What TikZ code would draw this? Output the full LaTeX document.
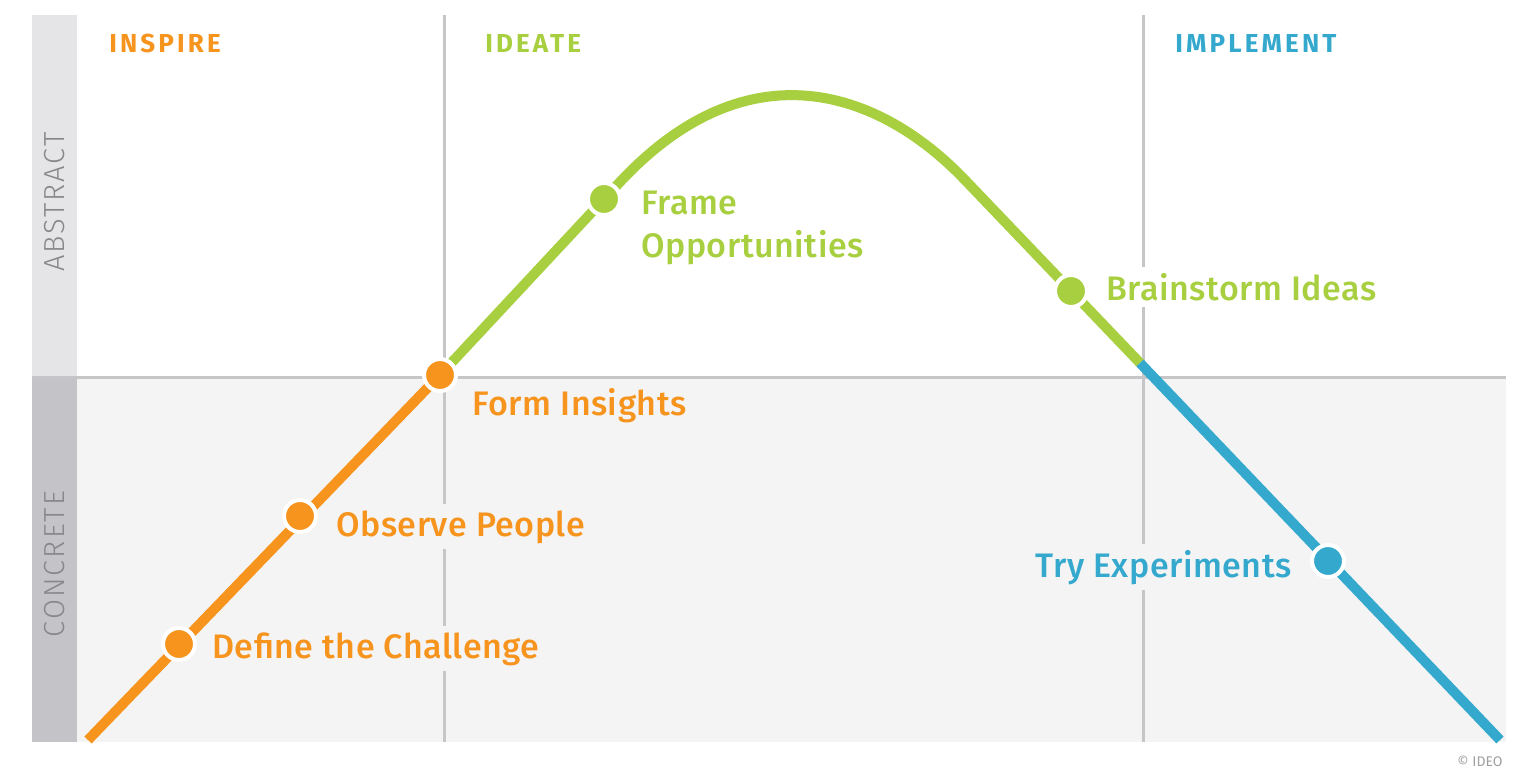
\documentclass[tikz,border=0pt]{standalone}
\usepackage{fontspec}
\setmainfont{Fira Sans}
\newfontfamily\hdrfont[LetterSpace=12]{Fira Sans}
\newfontfamily\lblfont[LetterSpace=1.5]{Fira Sans Medium}
\newfontfamily\sidefont[LetterSpace=7]{Fira Sans Light}
\definecolor{cOrange}{HTML}{F7941E}
\definecolor{cGreen}{HTML}{A8CF3F}
\definecolor{cBlue}{HTML}{35A9CD}
\definecolor{bandA}{HTML}{E5E5E7}
\definecolor{bandC}{HTML}{C4C4C8}
\definecolor{concBg}{HTML}{F4F4F5}
\definecolor{gridGray}{HTML}{C6C6C8}
\definecolor{sideText}{HTML}{88888C}
\begin{document}
\begin{tikzpicture}[x=0.5pt,y=-0.5pt,
  gridline/.style={draw=gridGray,line width=1.5pt},
  phase/.style={line width=5pt,line cap=butt,line join=round},
  lbl/.style={anchor=base west,inner xsep=2pt,inner ysep=3pt,font=\lblfont\fontsize{17}{20}\selectfont},
  hdr/.style={anchor=base west,inner sep=0pt,font=\hdrfont\bfseries\fontsize{13}{15}\selectfont},
  side/.style={rotate=90,inner sep=0pt,text=sideText,font=\sidefont\fontsize{14.5}{16}\selectfont},
  dot/.style={circle,inner sep=0pt,minimum size=16pt,draw=white,line width=2pt,fill=#1}]
\useasboundingbox (0,0) rectangle (1536,781);
\fill[white] (0,0) rectangle (1536,781);
% bands and background
\fill[bandA] (32,15) rectangle (77,377);
\fill[bandC] (32,377) rectangle (77,742);
\fill[concBg] (77,377) rectangle (1506,742);
% grid lines
\coordinate (hL) at (32,377);
\coordinate (hR) at (1506,377);
\coordinate (v1t) at (444,15);
\coordinate (v1b) at (444,742);
\coordinate (v2t) at (1143,15);
\coordinate (v2b) at (1143,742);
\draw[gridline] (hL) -- (hR);
\draw[gridline] (v1t) -- (v1b);
\draw[gridline] (v2t) -- (v2b);
% side labels
\node[side] (abs) at (55,202) {ABSTRACT};
\node[side] (con) at (55,564) {CONCRETE};
% headers
\node[hdr,text=cOrange] (hInspire) at (109,53) {INSPIRE};
\node[hdr,text=cGreen] (hIdeate) at (485,53) {IDEATE};
\node[hdr,text=cBlue] (hImplement) at (1175,53) {IMPLEMENT};
% step labels
\node[lbl,text=cOrange,fill=concBg] (tDefine) at (208,658) {Define the Challenge};
\node[lbl,text=cOrange,fill=concBg] (tObserve) at (332,536) {Observe People};
\node[lbl,text=cOrange,fill=concBg] (tForm) at (468,415) {Form Insights};
\node[lbl,text=cGreen,fill=white] (tFrame) at (637,214) {Frame};
\node[lbl,text=cGreen,fill=white] (tOpp) at (637,257) {Opportunities};
\node[lbl,text=cGreen,fill=white] (tBrain) at (1102,300) {Brainstorm Ideas};
\node[lbl,text=cBlue,fill=concBg,anchor=base east] (tTry) at (1296,577) {Try Experiments};
\node[anchor=base east,inner sep=0pt,text=sideText!80,font=\fontsize{7}{8}\selectfont] (copy) at (1503,766) {© IDEO};
% curve
\coordinate (pStart) at (88,740);
\coordinate (pForm) at (440,375);
\coordinate (pBend1) at (620,182);
\coordinate (pBend2) at (965,180);
\coordinate (pSwitch) at (1140,363);
\coordinate (pEnd) at (1500,740);
\draw[phase,draw=cOrange] (pStart) -- (pForm);
\draw[phase,draw=cGreen] (pForm) -- (pBend1) .. controls (748,45) and (879,90) .. (pBend2) -- (pSwitch);
\draw[phase,draw=cBlue] (pSwitch) -- (pEnd);
% dots
\node[dot=cOrange] (dDefine) at (179,644) {};
\node[dot=cOrange] (dObserve) at (300,516) {};
\node[dot=cOrange] (dForm) at (pForm) {};
\node[dot=cGreen] (dFrame) at (604,199) {};
\node[dot=cGreen] (dBrain) at (1071,291) {};
\node[dot=cBlue] (dTry) at (1328,561) {};
\end{tikzpicture}
\end{document}
